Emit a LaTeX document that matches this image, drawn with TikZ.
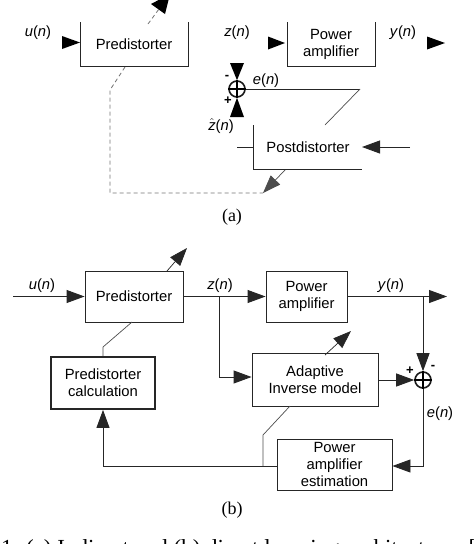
\documentclass[tikz,border=0pt]{standalone}
\usepackage{fontspec}
\setmainfont{Liberation Serif}
\setsansfont{Liberation Sans}
\usetikzlibrary{arrows.meta,calc}
\begin{document}
\begin{tikzpicture}[x=1pt,y=-1pt,
  ln/.style={draw=black!85,line width=0.9pt},
  arr/.style={ln,-{Triangle[length=18pt,width=13pt]}},
  dsh/.style={draw=black!55,line width=0.8pt,dash pattern=on 4pt off 3pt},
  box/.style={draw=black!85,line width=0.9pt,rectangle,inner sep=0pt,align=center,font=\sffamily\fontsize{14.8}{17}\selectfont},
  txt/.style={inner sep=0pt,align=center,font=\sffamily\fontsize{14.8}{17}\selectfont},
  lbl/.style={inner sep=0pt,font=\sffamily\fontsize{14.8}{17}\selectfont},
  sgn/.style={inner sep=0pt,font=\sffamily\bfseries\fontsize{13}{13}\selectfont},
  tipfill/.style={fill=black},
  sum/.style={circle,draw=black!90,line width=1.6pt,minimum size=16pt,inner sep=0pt},
  subcap/.style={inner sep=0pt,font=\rmfamily\fontsize{18}{18}\selectfont}]
\useasboundingbox (0,0) rectangle (474,544);

% ---------------- (a) ----------------
\node[txt] (predA) at (134,44) {Predistorter};
\draw[ln] (80,22) -- (80,66) -- (188,66) -- (188,22);
\node[lbl] (uA) at (38,33) {\textit{u}(\textit{n})};
\fill[tipfill] (80,42.5) -- (62,36) -- (62,49) -- cycle;
\coordinate (adA0) at (148,24);
\coordinate (adA1) at (170,-6);
\draw[dsh] (adA0) -- ($(adA0)!0.55!(adA1)$);
\fill[tipfill] (adA1) -- ($(adA0)!0.5!(adA1)+(6,5)$) -- ($(adA0)!0.5!(adA1)+(-8,-5)$) -- cycle;

\node[lbl] (zA) at (237,33) {\textit{z}(\textit{n})};
\fill[tipfill] (285,43) -- (268,36.5) -- (268,49.5) -- cycle;
\node[txt] (paA) at (331,44) {Power\\amplifier};
\draw[ln] (287,22) -- (287,66) -- (375,66) -- (375,22);
\node[lbl] (yA) at (403,33) {\textit{y}(\textit{n})};
\fill[tipfill] (445,43) -- (427,36.5) -- (427,49.5) -- cycle;

\node[sum] (sA) at (237,89) {};
\draw[line width=1.4pt] (sA.north) -- (sA.south) (sA.west) -- (sA.east);
\fill[tipfill] (sA.north) -- (230,63) -- (244,63) -- cycle;
\fill[tipfill] (sA.south) -- (230,117) -- (244,117) -- cycle;
\node[sgn] at (227,77) {-};
\node[sgn] at (228,101) {+};
\node[lbl] (eA) at (266,81) {\textit{e}(\textit{n})};
\coordinate (eA1) at (360,89);
\coordinate (eA2) at (325,125);
\draw[ln] (sA.east) -- (eA1);
\draw[draw=black!70,line width=0.7pt] (eA1) -- (eA2);

\node[txt] (postA) at (308,147) {Postdistorter};
\draw[ln] (253,125) -- (253,169) -- (362,169);
\draw[ln] (237,147) -- (253,147);
\node[lbl] (zhA) at (221,126) {$\hat{\mbox{\textit{z}}}$(\textit{n})};
\coordinate (inPost) at (410,147);
\draw[arr] (inPost) -- (362,147);
\coordinate (pbA) at (285,170);
\coordinate (pcA) at (263,193);
\draw[draw=black!70,line width=0.7pt,-{Triangle[length=18pt,width=13pt]}] (pbA) -- (pcA);
\coordinate (dA0) at (125,67);
\coordinate (dA1) at (110,90);
\coordinate (dA2) at (110,193);
\draw[dsh] (dA0) -- (dA1) -- (dA2) -- (pcA);
\node[subcap] (capA) at (232,217) {(a)};

% ---------------- (b) ----------------
\node[box,minimum width=98pt,minimum height=51pt] (predB) at (134,296.5) {Predistorter};
\node[box,minimum width=81pt,minimum height=51pt] (paB) at (306.5,296.5) {Power\\amplifier};
\node[box,line width=1.8pt,minimum width=104pt,minimum height=52pt] (calcB) at (103,383) {Predistorter\\calculation};
\node[box,minimum width=126pt,minimum height=53pt] (adB) at (315,379.5) {Adaptive\\Inverse model};
\node[box,minimum width=115pt,minimum height=51pt] (estB) at (334.5,464.5) {Power\\amplifier\\estimation};
\node[sum] (sB) at (423,380) {};
\draw[line width=1.4pt] (sB.north) -- (sB.south) (sB.west) -- (sB.east);

\coordinate (inB) at (13,296.5);
\draw[arr] (inB) -- (predB.west);
\node[lbl] (uB) at (42,286) {\textit{u}(\textit{n})};
\coordinate (apB0) at (167,271);
\coordinate (apB1) at (187,248);
\draw[arr,line width=0.7pt] (apB0) -- (apB1);

\draw[arr] (predB.east) -- (paB.west);
\node[lbl] (zB) at (220,286) {\textit{z}(\textit{n})};
\coordinate (brZ) at (219,296.5);
\coordinate (brZ2) at (219,377);
\draw[arr] (brZ) -- (brZ2) -- (adB.west |- brZ2);

\coordinate (outB) at (447,296.5);
\draw[arr] (paB.east) -- (outB);
\node[lbl] (yB) at (391,286) {\textit{y}(\textit{n})};
\coordinate (brY) at (423,296.5);
\draw[arr] (brY) -- (sB.north);
\draw[arr] (adB.east |- sB) -- (sB.west);
\node[sgn] at (410,371) {+};
\node[sgn] at (433,367) {-};
\coordinate (aaB0) at (325,355);
\coordinate (aaB1) at (351,331);
\draw[arr,line width=0.7pt] (aaB0) -- (aaB1);

\coordinate (eB1) at (423,466);
\draw[arr] (sB.south) -- (eB1) -- (estB.east |- eB1);
\node[lbl] (eB) at (440,414) {\textit{e}(\textit{n})};
\coordinate (fb1) at (103,466);
\draw[arr] (estB.west |- eB1) -- (fb1) -- (calcB.south);
\coordinate (ab0) at (290,406);
\coordinate (ab1) at (263,435);
\coordinate (ab2) at (263,466);
\draw[draw=black!70,line width=0.7pt] (ab0) -- (ab1) -- (ab2);
\coordinate (pc0) at (132,322);
\coordinate (pc1) at (103,347);
\draw[draw=black!70,line width=0.7pt] (pc0) -- (pc1) -- (calcB.north);
\node[subcap] (capB) at (232,510) {(b)};

\node[anchor=base west,inner sep=0pt,font=\rmfamily\fontsize{23}{23}\selectfont] (caption) at (1,555) {1. (a) Indirect and (b) direct learning architectures [};
\end{tikzpicture}
\end{document}
